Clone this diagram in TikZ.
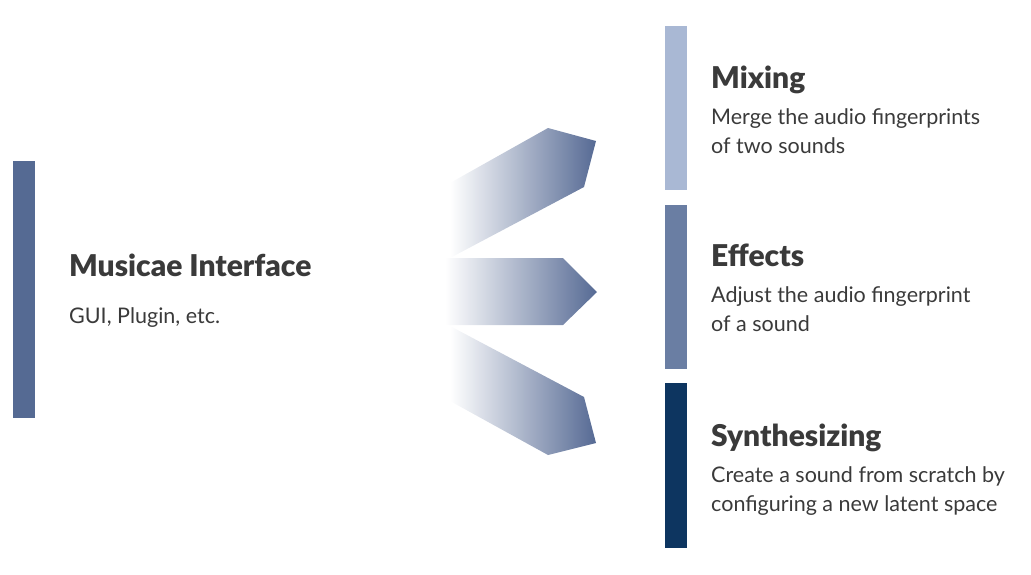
\documentclass[tikz,border=0pt]{standalone}
\usepackage{fontspec}
\setmainfont{Lato}
\newfontfamily\heavyfont{Lato Black}
\definecolor{txt}{HTML}{3A3A3A}
\definecolor{barA}{HTML}{556A93}
\definecolor{barL}{HTML}{A9B8D4}
\definecolor{barM}{HTML}{6A7EA3}
\definecolor{barD}{HTML}{0D3560}
\definecolor{arr}{HTML}{566A94}
\begin{document}
\begin{tikzpicture}[x=1pt,y=-1pt,
  title/.style={anchor=base west,font=\fontsize{30}{36}\heavyfont,text=txt,inner sep=0},
  body/.style={anchor=base west,font=\fontsize{21.5}{26}\selectfont,text=txt,inner sep=0},
  arrowshade/.style={left color=white,right color=arr}]
\useasboundingbox (0,0) rectangle (1031,574);
\fill[barA] (13,161) rectangle (35,418);
\fill[barL] (665,26) rectangle (687,190);
\fill[barM] (665,205) rectangle (687,369);
\fill[barD] (665,383) rectangle (687,548);
\shade[arrowshade] (450,183) -- (548,128) -- (596,141) -- (584,187) -- (450,258) -- cycle;
\shade[arrowshade] (445,258) -- (563,258) -- (597,292) -- (563,325) -- (445,325) -- cycle;
\shade[arrowshade] (450,326) -- (584,397) -- (596,443) -- (548,455) -- (450,401) -- cycle;
\node[title] (mi) at (69,276) {Musicae Interface};
\node[body] (gui) at (69,323) {GUI, Plugin, etc.};
\node[title] (mx) at (711,88) {Mixing};
\node[body] (mxb1) at (711,124) {Merge the audio fingerprints};
\node[body] (mxb2) at (711,153) {of two sounds};
\node[title] (ef) at (711,266) {Effects};
\node[body] (efb1) at (711,302) {Adjust the audio fingerprint};
\node[body] (efb2) at (711,331) {of a sound};
\node[title] (sy) at (711,446) {Synthesizing};
\node[body] (syb1) at (711,482) {Create a sound from scratch by};
\node[body] (syb2) at (711,511) {configuring a new latent space};
\end{tikzpicture}
\end{document}
